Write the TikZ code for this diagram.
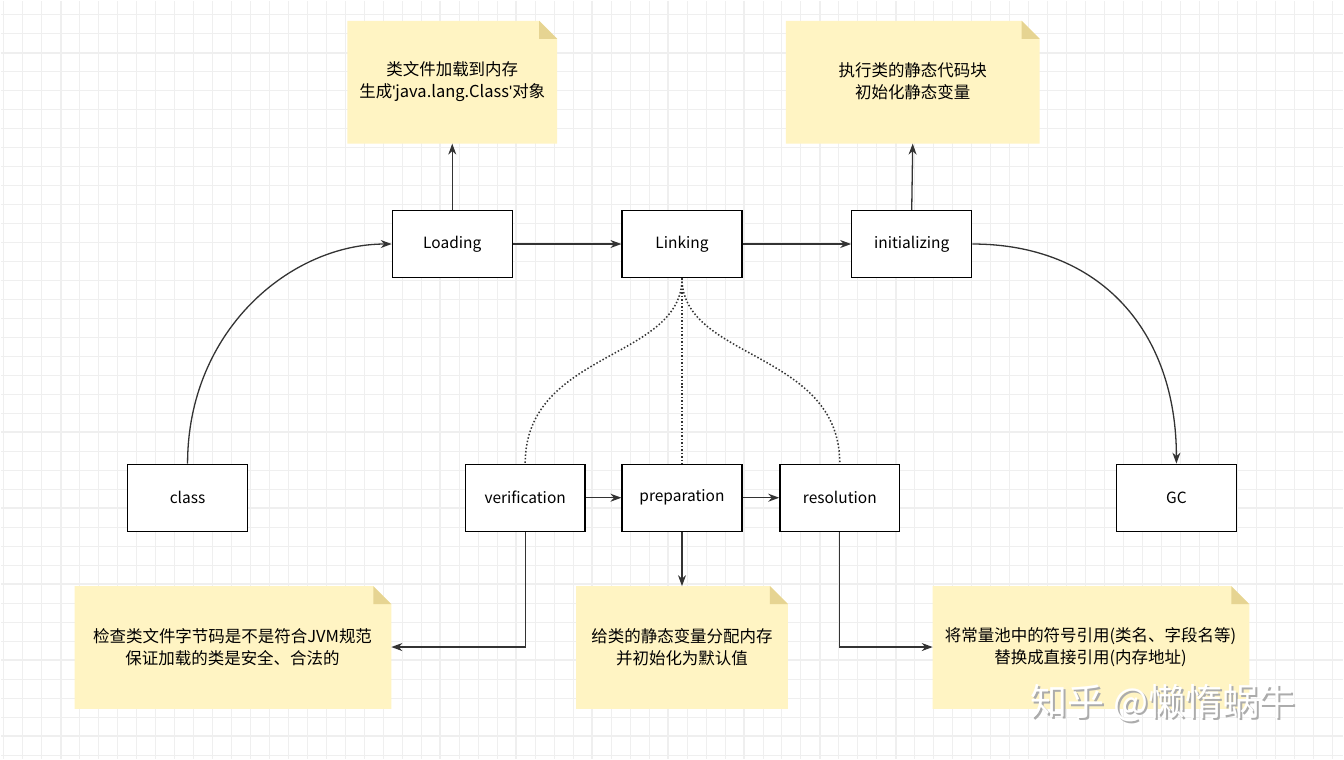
\documentclass[tikz,border=0pt]{standalone}
\usepackage{fontspec}
\setmainfont{Noto Sans CJK SC}
\newfontfamily\lat{Liberation Sans}
\usetikzlibrary{arrows.meta}
\definecolor{note}{HTML}{FFF4C3}
\definecolor{fold}{HTML}{E6D492}
\definecolor{gridc}{HTML}{EFEFEF}
\definecolor{lc}{HTML}{333333}
\begin{document}
\begin{tikzpicture}[x=1pt,y=-1pt,
  box/.style={draw=black,line width=1.3pt,fill=white,minimum width=120pt,minimum height=67pt,inner sep=0pt,font=\fontsize{15.5}{18}\selectfont},
  arr/.style={draw=lc,line width=1.3pt,-{Stealth[length=11pt,width=8pt]}},
  dot/.style={draw=lc,line width=1.5pt,dotted},
  ntext/.style={font=\fontsize{16.5}{22}\selectfont,align=center}]
\fill[white] (0,0) rectangle (1344,759);
\foreach \x in {3,22,...,1344} \draw[gridc,line width=0.8pt] (\x,0)--(\x,759);
\foreach \y in {14,33,...,759} \draw[gridc,line width=0.8pt] (0,\y)--(1344,\y);
\foreach \x in {60,136,...,1344} \draw[gridc,line width=1.6pt] (\x,0)--(\x,759);
\foreach \y in {52,128,...,759} \draw[gridc,line width=1.6pt] (0,\y)--(1344,\y);
\useasboundingbox (0,0) rectangle (1344,759);
% notes
\newcommand{\mynote}[4]{%
 \fill[note] (#1,#2) -- (#3-18,#2) -- (#3,#2+18) -- (#3,#4) -- (#1,#4) -- cycle;
 \fill[fold] (#3-18,#2) -- (#3,#2+18) -- (#3-18,#2+18) -- cycle;}
\mynote{347}{20}{557}{143}
\mynote{786}{20}{1040}{143}
\mynote{74}{586}{391}{709}
\mynote{576}{586}{788}{709}
\mynote{933}{586}{1250}{709}
\node[ntext] (t1) at (452,81) {类文件加载到内存\\生成{\lat\symbol{39}}java.lang.Class{\lat\symbol{39}}对象};
\node[ntext] (t2) at (913,81) {执行类的静态代码块\\初始化静态变量};
\node[ntext] (t3) at (232,647) {检查类文件字节码是不是符合JVM规范\\保证加载的类是安全、合法的};
\node[ntext] (t4) at (682,647) {给类的静态变量分配内存\\并初始化为默认值};
\node[ntext] (t5) at (1091,647) {将常量池中的符号引用(类名、字段名等)\\替换成直接引用(内存地址)};
\coordinate (n1b) at (452,143); \coordinate (n2b) at (913,143);
\coordinate (n3r) at (391,647); \coordinate (n4t) at (682,586); \coordinate (n5l) at (933,647);
% boxes
\node[box] (load) at (452,243.5) {Loading};
\node[box] (link) at (682,243.5) {Linking};
\node[box] (init) at (912,243.5) {initializing};
\node[box] (cls) at (187,497.5) {class};
\node[box] (ver) at (525,497.5) {verification};
\node[box] (prep) at (682,497.5) {preparation};
\node[box] (res) at (840,497.5) {resolution};
\node[box] (gc) at (1177,497.5) {GC};
% arrows
\draw[arr] (load.north) -- (n1b);
\draw[arr] (init.north) -- (n2b);
\draw[arr] (load) -- (link);
\draw[arr] (link) -- (init);
\draw[arr] (ver) -- (prep);
\draw[arr] (prep) -- (res);
\draw[arr] (cls.north) .. controls (187,330) and (290,243.5) .. (load.west);
\draw[arr] (init.east) .. controls (1100,243.5) and (1177,330) .. (gc.north);
\draw[arr] (ver.south) |- (n3r);
\draw[arr] (prep.south) -- (n4t);
\draw[arr] (res.south) |- (n5l);
\draw[dot] (link.south) .. controls (682,360) and (525,350) .. (ver.north);
\draw[dot] (link.south) -- (prep.north);
\draw[dot] (link.south) .. controls (682,360) and (840,350) .. (res.north);
% watermark
\node[font=\fontsize{37}{37}\selectfont,text=gray!65] (wm0) at (1166,705) {知乎 @懒惰蜗牛};
\node[font=\fontsize{37}{37}\selectfont,text=white] (wm) at (1164,703) {知乎 @懒惰蜗牛};
\end{tikzpicture}
\end{document}
